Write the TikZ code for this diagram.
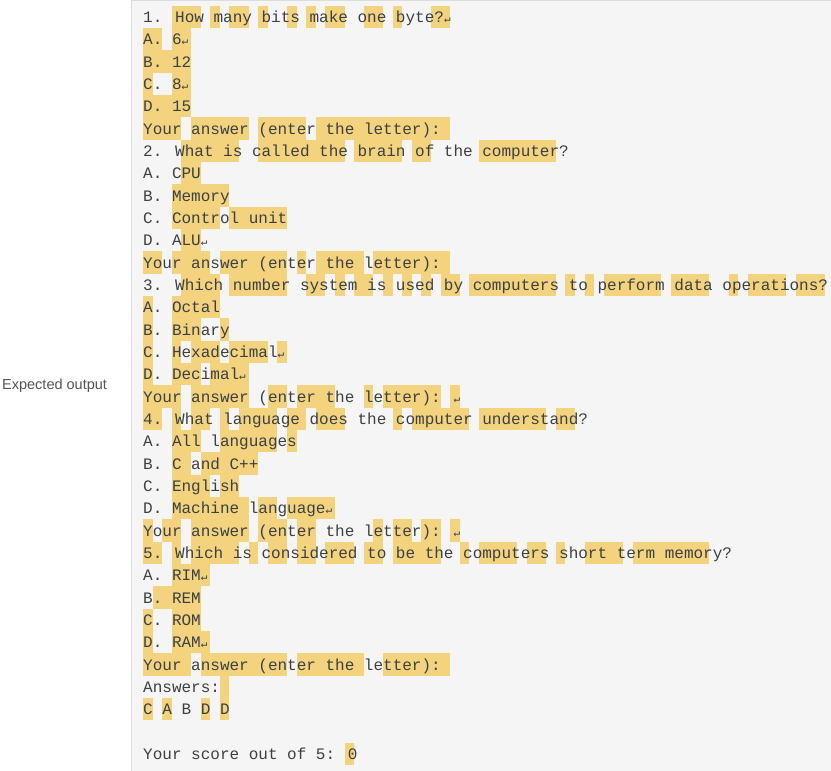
\documentclass[tikz,border=0pt]{standalone}
\usepackage{fontspec}
\setmainfont{Liberation Sans}
\newfontfamily\monof{Liberation Mono}
\newfontfamily\arrf{DejaVu Sans Mono}
\definecolor{panelbg}{HTML}{F5F5F5}
\definecolor{panelbd}{HTML}{DDDDDD}
\definecolor{hlc}{HTML}{F3D37E}
\definecolor{txtc}{HTML}{3C4043}
\definecolor{lblc}{HTML}{555555}
\newcommand{\RA}{{\arrf\fontsize{11pt}{11pt}\selectfont ↵}}
\tikzset{
  code/.style={anchor=base west, inner sep=0pt, text=txtc, font=\monof\fontsize{16pt}{16pt}\selectfont},
  lbl/.style={anchor=west, inner sep=0pt, text=lblc, font=\fontsize{14.5pt}{14.5pt}\selectfont}
}
\newcommand{\hl}[3]{\fill[hlc] ({143+9.6*#2},{17+22.33*#1-11.17}) rectangle ({143+9.6*#3+9.6},{17+22.33*#1+11.17});}
\newcommand{\codeline}[3]{\node[code] (#1) at (143,{17+22.33*#2+5.5}) {#3};}
\begin{document}
\begin{tikzpicture}[x=1pt,y=-1pt]
\useasboundingbox (0,0) rectangle (831,771);
\fill[white] (0,0) rectangle (831,771);
\filldraw[fill=panelbg,draw=panelbd] (131,0.5) rectangle (831.5,771.5);
\node[lbl] (label) at (2,386) {Expected output};
% highlights
\foreach \a/\b in {3/5,7/7,9/10,12/12,15/15,17/17,19/20,23/24,26/26,30/31}{\hl{0}{\a}{\b}}
\foreach \a/\b in {0/1,3/4}{\hl{1}{\a}{\b}}
\hl{2}{0}{4}
\foreach \a/\b in {0/0,3/4}{\hl{3}{\a}{\b}}
\hl{4}{0}{4}
\foreach \a/\b in {0/3,5/10,12/16,18/31}{\hl{5}{\a}{\b}}
\foreach \a/\b in {4/9,12/20,22/26,28/29,35/42}{\hl{6}{\a}{\b}}
\hl{7}{4}{5}
\hl{8}{3}{8}
\foreach \a/\b in {3/7,9/14}{\hl{9}{\a}{\b}}
\hl{10}{4}{5}
\foreach \a/\b in {0/1,3/6,8/14,16/16,18/22,24/31}{\hl{11}{\a}{\b}}
\foreach \a/\b in {4/7,9/14,17/18,20/20,22/23,25/25,27/27,29/29,31/32,34/42,44/44,46/46,48/53,55/58,61/61,63/66,68/70}{\hl{12}{\a}{\b}}
\foreach \a/\b in {0/0,3/7}{\hl{13}{\a}{\b}}
\foreach \a/\b in {0/0,3/5,8/8}{\hl{14}{\a}{\b}}
\foreach \a/\b in {0/0,3/3,5/7,9/12,14/14}{\hl{15}{\a}{\b}}
\foreach \a/\b in {0/0,3/5,7/10}{\hl{16}{\a}{\b}}
\foreach \a/\b in {0/3,5/10,13/14,16/19,23/23,25/30,32/32}{\hl{17}{\a}{\b}}
\foreach \a/\b in {0/1,3/3,5/6,8/8,10/13,15/16,18/20,26/26,28/33,35/41,43/44}{\hl{18}{\a}{\b}}
\foreach \a/\b in {3/5,8/13,15/15}{\hl{19}{\a}{\b}}
\foreach \a/\b in {3/4,6/11}{\hl{20}{\a}{\b}}
\foreach \a/\b in {3/6,8/9}{\hl{21}{\a}{\b}}
\foreach \a/\b in {3/10,12/13,15/19}{\hl{22}{\a}{\b}}
\foreach \a/\b in {0/0,2/3,5/10,12/14,16/17,24/24,26/27,29/30,32/32}{\hl{23}{\a}{\b}}
\foreach \a/\b in {0/1,3/3,5/9,11/11,13/14,16/17,19/21,23/24,26/30,33/33,35/38,40/41,43/43,46/49,51/58}{\hl{24}{\a}{\b}}
\hl{25}{3}{6}
\hl{26}{1}{5}
\foreach \a/\b in {0/0,3/5}{\hl{27}{\a}{\b}}
\foreach \a/\b in {0/0,3/6}{\hl{28}{\a}{\b}}
\foreach \a/\b in {0/4,6/14,16/22,25/31}{\hl{29}{\a}{\b}}
\hl{30}{8}{8}
\foreach \a/\b in {0/0,2/2,6/6,8/8}{\hl{31}{\a}{\b}}
\hl{33}{21}{21}
% text
\codeline{t0}{0}{1. How many bits make one byte?\RA}
\codeline{t1}{1}{A. 6\RA}
\codeline{t2}{2}{B. 12}
\codeline{t3}{3}{C. 8\RA}
\codeline{t4}{4}{D. 15}
\codeline{t5}{5}{Your answer (enter the letter):}
\codeline{t6}{6}{2. What is called the brain of the computer?}
\codeline{t7}{7}{A. CPU}
\codeline{t8}{8}{B. Memory}
\codeline{t9}{9}{C. Control unit}
\codeline{t10}{10}{D. ALU\RA}
\codeline{t11}{11}{Your answer (enter the letter):}
\codeline{t12}{12}{3. Which number system is used by computers to perform data operations?}
\codeline{t13}{13}{A. Octal}
\codeline{t14}{14}{B. Binary}
\codeline{t15}{15}{C. Hexadecimal\RA}
\codeline{t16}{16}{D. Decimal\RA}
\codeline{t17}{17}{Your answer (enter the letter): \RA}
\codeline{t18}{18}{4. What language does the computer understand?}
\codeline{t19}{19}{A. All languages}
\codeline{t20}{20}{B. C and C++}
\codeline{t21}{21}{C. English}
\codeline{t22}{22}{D. Machine language\RA}
\codeline{t23}{23}{Your answer (enter the letter): \RA}
\codeline{t24}{24}{5. Which is considered to be the computers short term memory?}
\codeline{t25}{25}{A. RIM\RA}
\codeline{t26}{26}{B. REM}
\codeline{t27}{27}{C. ROM}
\codeline{t28}{28}{D. RAM\RA}
\codeline{t29}{29}{Your answer (enter the letter):}
\codeline{t30}{30}{Answers:}
\codeline{t31}{31}{C A B D D}
\codeline{t33}{33}{Your score out of 5: 0}
\end{tikzpicture}
\end{document}
